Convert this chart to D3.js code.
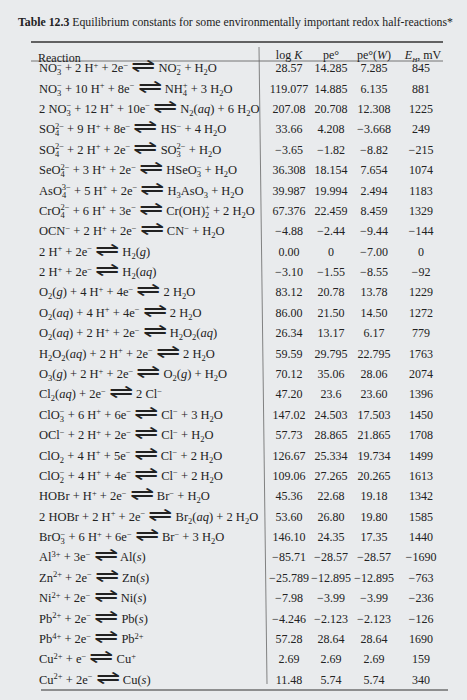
<!DOCTYPE html>
<html><head><meta charset="utf-8">
<script src="https://cdn.jsdelivr.net/npm/d3@7"></script>
<style>body{margin:0;background:#e9ebed}</style>
</head><body><svg id="tbl"></svg>
<script>
// {_x} subscript, {^x} superscript, | equilibrium arrow
var reactions = [
  "NO{_3}{^-} + 2 H{^+} + 2e{^-} | NO{_2}{^-} + H{_2}O",
  "NO{_3}{^-} + 10 H{^+} + 8e{^-} | NH{_4}{^+} + 3 H{_2}O",
  "2 NO{_3}{^-} + 12 H{^+} + 10e{^-} | N{_2}(aq) + 6 H{_2}O",
  "SO{_4}{^2-} + 9 H{^+} + 8e{^-} | HS{^-} + 4 H{_2}O",
  "SO{_4}{^2-} + 2 H{^+} + 2e{^-} | SO{_3}{^2-} + H{_2}O",
  "SeO{_4}{^2-} + 3 H{^+} + 2e{^-} | HSeO{_3}{^-} + H{_2}O",
  "AsO{_4}{^3-} + 5 H{^+} + 2e{^-} | H{_3}AsO{_3} + H{_2}O",
  "CrO{_4}{^2-} + 6 H{^+} + 3e{^-} | Cr(OH){_2}{^+} + 2 H{_2}O",
  "OCN{^-} + 2 H{^+} + 2e{^-} | CN{^-} + H{_2}O",
  "2 H{^+} + 2e{^-} | H{_2}(g)",
  "2 H{^+} + 2e{^-} | H{_2}(aq)",
  "O{_2}(g) + 4 H{^+} + 4e{^-} | 2 H{_2}O",
  "O{_2}(aq) + 4 H{^+} + 4e{^-} | 2 H{_2}O",
  "O{_2}(aq) + 2 H{^+} + 2e{^-} | H{_2}O{_2}(aq)",
  "H{_2}O{_2}(aq) + 2 H{^+} + 2e{^-} | 2 H{_2}O",
  "O{_3}(g) + 2 H{^+} + 2e{^-} | O{_2}(g) + H{_2}O",
  "Cl{_2}(aq) + 2e{^-} | 2 Cl{^-}",
  "ClO{_3}{^-} + 6 H{^+} + 6e{^-} | Cl{^-} + 3 H{_2}O",
  "OCl{^-} + 2 H{^+} + 2e{^-} | Cl{^-} + H{_2}O",
  "ClO{_2} + 4 H{^+} + 5e{^-} | Cl{^-} + 2 H{_2}O",
  "ClO{_2}{^-} + 4 H{^+} + 4e{^-} | Cl{^-} + 2 H{_2}O",
  "HOBr + H{^+} + 2e{^-} | Br{^-} + H{_2}O",
  "2 HOBr + 2 H{^+} + 2e{^-} | Br{_2}(aq) + 2 H{_2}O",
  "BrO{_3}{^-} + 6 H{^+} + 6e{^-} | Br{^-} + 3 H{_2}O",
  "Al{^3+} + 3e{^-} | Al(s)",
  "Zn{^2+} + 2e{^-} | Zn(s)",
  "Ni{^2+} + 2e{^-} | Ni(s)",
  "Pb{^2+} + 2e{^-} | Pb(s)",
  "Pb{^4+} + 2e{^-} | Pb{^2+}",
  "Cu{^2+} + e{^-} | Cu{^+}",
  "Cu{^2+} + 2e{^-} | Cu(s)"
];
var logK = ["28.57","119.077","207.08","33.66","\u22123.65","36.308","39.987","67.376","\u22124.88","0.00","\u22123.10","83.12","86.00","26.34","59.59","70.12","47.20","147.02","57.73","126.67","109.06","45.36","53.60","146.10","\u221285.71","\u221225.789","\u22127.98","\u22124.246","57.28","2.69","11.48"];
var pe = ["14.285","14.885","20.708","4.208","\u22121.82","18.154","19.994","22.459","\u22122.44","0","\u22121.55","20.78","21.50","13.17","29.795","35.06","23.6","24.503","28.865","25.334","27.265","22.68","26.80","24.35","\u221228.57","\u221212.895","\u22123.99","\u22122.123","28.64","2.69","5.74"];
var peW = ["7.285","6.135","12.308","\u22123.668","\u22128.82","7.654","2.494","8.459","\u22129.44","\u22127.00","\u22128.55","13.78","14.50","6.17","22.795","28.06","23.60","17.503","21.865","19.734","20.265","19.18","19.80","17.35","\u221228.57","\u221212.895","\u22123.99","\u22122.123","28.64","2.69","5.74"];
var EH = ["845","881","1225","249","\u2212215","1074","1183","1329","\u2212144","0","\u221292","1229","1272","779","1763","2074","1396","1450","1708","1499","1613","1342","1585","1440","\u22121690","\u2212763","\u2212236","\u2212126","1690","159","340"];

var width = 467, height = 700
var svg = d3.select("#tbl").attr("width", width).attr("height", height)
  .style("font-family", "'Liberation Serif', serif").style("fill", "#222")

svg.append("rect").attr("width", width).attr("height", height).attr("fill", "#e9ebed")

var title = svg.append("text").attr("x", 18).attr("y", 26).style("font-size", "12px")
  .attr("textLength", 435).attr("lengthAdjust", "spacingAndGlyphs")
title.append("tspan").attr("font-weight", "bold").text("Table 12.3")
title.append("tspan").text(" Equilibrium constants for some environmentally important redox half-reactions*")

var left = 31, right = 443, divX = 259
svg.append("line").attr("x1", left).attr("x2", right).attr("y1", 42).attr("y2", 42).attr("stroke", "#333").attr("stroke-width", 1.5)
svg.append("line").attr("x1", left).attr("x2", right).attr("y1", 61).attr("y2", 61).attr("stroke", "#555").attr("stroke-width", 0.8)
svg.append("line").attr("x1", left + 10).attr("x2", right + 5).attr("y1", 690).attr("y2", 690).attr("stroke", "#333").attr("stroke-width", 1.2)
svg.append("line").attr("x1", divX).attr("x2", divX + 8).attr("y1", 47).attr("y2", 684).attr("stroke", "#666").attr("stroke-width", 0.8)

var y = d3.scaleBand().domain(d3.range(reactions.length)).range([58, 690])
var colX = { logK: 289, pe: 331, peW: 374, EH: 421 }

// header
svg.append("text").attr("x", 38).attr("y", 62).style("font-size", "12px").text("Reaction")
var hs = "12px"
var h1 = svg.append("text").attr("x", colX.logK).attr("y", 59).attr("text-anchor", "middle").style("font-size", hs)
h1.append("tspan").text("log ")
h1.append("tspan").attr("font-style", "italic").text("K")
svg.append("text").attr("x", colX.pe).attr("y", 59).attr("text-anchor", "middle").style("font-size", hs).text("pe\u00B0")
var h3 = svg.append("text").attr("x", colX.peW).attr("y", 59).attr("text-anchor", "middle").style("font-size", hs)
h3.append("tspan").text("pe\u00B0(")
h3.append("tspan").attr("font-style", "italic").text("W")
h3.append("tspan").text(")")
var h4 = svg.append("text").attr("x", colX.EH + 2).attr("y", 59).attr("text-anchor", "middle").style("font-size", hs)
h4.append("tspan").attr("font-style", "italic").text("E")
h4.append("tspan").attr("font-size", "7px").attr("dy", 3).attr("font-style", "italic").text("H")
h4.append("tspan").attr("dy", -3).text(", mV")

function drawFormula(textSel, str) {
  var parts = str.split(/(\{[_^][^}]*\}|\|)/).filter(function (s) { return s.length })
  var shift = 0, lastSub = 0
  parts.forEach(function (p) {
    var m = p.match(/^\{([_^])([^}]*)\}$/)
    if (p === "|") {
      textSel.append("tspan").attr("dy", -shift).text(" ")
      textSel.append("tspan").attr("font-size", "17px").attr("textLength", 24).attr("lengthAdjust", "spacingAndGlyphs").text("\u21CC")
      textSel.append("tspan").text(" ")
      shift = 0; lastSub = 0
    } else if (m && m[1] === "_") {
      textSel.append("tspan").attr("dy", 3 - shift).attr("font-size", "8.5px").text(m[2])
      shift = 3; lastSub = m[2].length
    } else if (m) {
      var t = textSel.append("tspan").attr("dy", -4.5 - shift).attr("font-size", "8.5px").text(m[2].replace("-", "\u2212"))
      if (lastSub) t.attr("dx", -lastSub * 4.3)
      shift = -4.5; lastSub = 0
    } else {
      var segs = p.split(/(\((?:aq|g|s)\))/)
      var first = true
      segs.forEach(function (s) {
        if (!s) return
        var ts
        if (/^\((aq|g|s)\)$/.test(s)) {
          ts = textSel.append("tspan").text("(")
          textSel.append("tspan").attr("font-style", "italic").text(s.slice(1, -1))
          textSel.append("tspan").text(")")
        } else {
          ts = textSel.append("tspan").text(s)
        }
        if (first) { ts.attr("dy", -shift); first = false }
      })
      shift = 0; lastSub = 0
    }
  })
}

var rows = svg.append("g").selectAll("g").data(reactions).enter().append("g")
  .attr("transform", function (d, i) { return "translate(0," + (y(i) + y.bandwidth() / 2 + 4) + ")" })

rows.append("text").attr("x", 39).style("font-size", "12.5px")
  .each(function (d) { drawFormula(d3.select(this), d) })

var cols = [["logK", logK], ["pe", pe], ["peW", peW], ["EH", EH]]
cols.forEach(function (c) {
  rows.append("text").attr("x", colX[c[0]]).attr("text-anchor", "middle").style("font-size", "12px")
    .text(function (d, i) { return c[1][i] })
})
</script></body></html>
